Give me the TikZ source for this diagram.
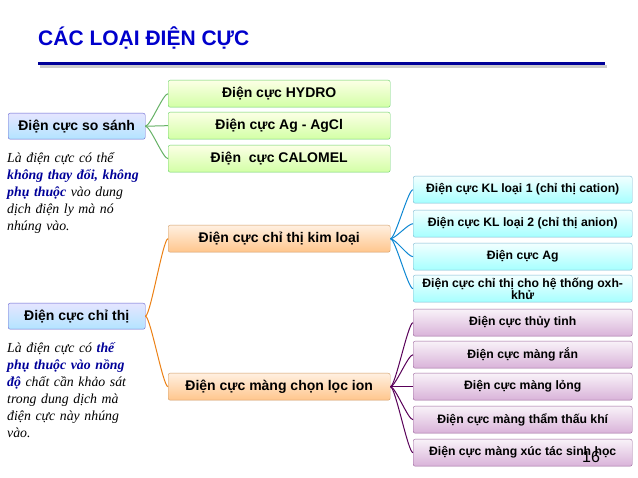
\documentclass[tikz,border=0pt]{standalone}
\usepackage{fontspec}
\setmainfont{Liberation Serif}
\setsansfont{Liberation Sans}
\begin{document}
\begin{tikzpicture}[x=1pt,y=-1pt,
 bx/.style={draw=#1!70!black!60, rounded corners=2pt, minimum height=27pt, inner sep=1pt, font=\sffamily\bfseries\fontsize{14}{14}\selectfont, align=center, anchor=north west},
 blu/.style={bx=blue, top color=blue!10, bottom color=blue!35!cyan!30, minimum width=137pt, minimum height=26pt},
 grn/.style={bx=green, top color=green!12!yellow!10, bottom color=green!50!yellow!35, minimum width=222pt},
 org/.style={bx=orange, top color=orange!12, bottom color=orange!45, minimum width=222pt},
 cya/.style={bx=cyan, top color=cyan!5, bottom color=cyan!35, minimum width=219pt, font=\sffamily\bfseries\fontsize{12.2}{12}\selectfont},
 pur/.style={bx=violet, top color=violet!5, bottom color=violet!30, minimum width=219pt, font=\sffamily\bfseries\fontsize{12.2}{12}\selectfont},
 gl/.style={draw=green!50!black!60, line width=1pt},
 ol/.style={draw=orange!70!brown, line width=1pt},
 cl/.style={draw=cyan!70!blue, line width=1pt},
 pl/.style={draw=violet!70!black, line width=1pt},
 note/.style={anchor=north west, align=left, font=\itshape\fontsize{13.8}{17}\selectfont, text width=150pt, inner sep=0pt}]
\useasboundingbox (0,0) rectangle (638,478);
\fill[white] (0,0) rectangle (638,478);
\node[anchor=west, text=blue!80!black, font=\sffamily\bfseries\fontsize{21}{22}\selectfont, inner sep=0] (title) at (38,38) {CÁC LOẠI ĐIỆN CỰC};
\fill[gray!40] (40,65) rectangle (607,68);
\fill[blue!60!black] (38,62) rectangle (605,65);

\node[blu] (ss) at (8,113) {Điện cực so sánh};
\node[grn] (h) at (168,80) {Điện cực HYDRO};
\node[grn] (ag) at (168,112) {Điện cực Ag - AgCl};
\node[grn] (cal) at (168,145) {Điện\ \ cực CALOMEL};
\foreach \n in {h,ag,cal} \draw[gl] (ss.east) .. controls +(5,0) and +(-5,0) .. (\n.west);

\node[blu] (ct) at (8,303) {Điện cực chỉ thị};
\node[org] (kl) at (168,225) {Điện cực chỉ thị kim loại};
\node[org] (ion) at (168,373) {Điện cực màng chọn lọc ion};
\foreach \n in {kl,ion} \draw[ol] (ct.east) .. controls +(5,0) and +(-5,0) .. (\n.west);

\node[cya] (c1) at (413,176) {Điện cực KL loại 1 (chỉ thị cation)};
\node[cya] (c2) at (413,210) {Điện cực KL loại 2 (chỉ thị anion)};
\node[cya] (c3) at (413,243) {Điện cực Ag};
\node[cya] (c4) at (413,275) {Điện cực chỉ thị cho hệ thống oxh-\\khử};
\foreach \n in {c1,c2,c3,c4} \draw[cl] (kl.east) .. controls +(5,0) and +(-5,0) .. (\n.west);

\node[pur] (p1) at (413,309) {Điện cực thủy tinh};
\node[pur] (p2) at (413,341) {Điện cực màng rắn};
\node[pur] (p3) at (413,373) {Điện cực màng lỏng};
\node[pur] (p4) at (413,406) {Điện cực màng thẩm thấu khí};
\node[pur] (p5) at (413,439) {Điện cực màng xúc tác sinh học};
\foreach \n in {p1,p2,p3,p4,p5} \draw[pl] (ion.east) .. controls +(5,0) and +(-5,0) .. (\n.west);

\node[note] (n1) at (7,152) {Là điện cực có thể\\\textbf{\color{blue!60!black}không thay đổi, không}\\\textbf{\color{blue!60!black}phụ thuộc} vào dung\\dịch điện ly mà nó\\nhúng vào.};
\node[note] (n2) at (7,342) {Là điện cực có \textbf{\color{blue!60!black}thế}\\\textbf{\color{blue!60!black}phụ thuộc vào nồng}\\\textbf{\color{blue!60!black}độ} chất cần khảo sát\\trong dung dịch mà\\điện cực này nhúng\\vào.};
\node[font=\sffamily\fontsize{16}{16}\selectfont, inner sep=0] (pg) at (591,457) {16};
\end{tikzpicture}
\end{document}
